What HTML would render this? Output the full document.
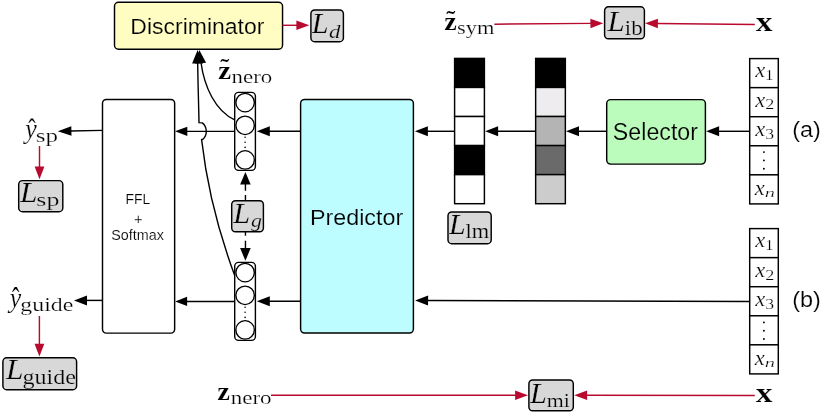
<!DOCTYPE html>
<html><head><meta charset="utf-8"><title>Model diagram</title>
<style>
html,body{margin:0;padding:0;background:#fff;}
svg{display:block;will-change:transform;}
text{fill:#000;}
.sans{font-family:"Liberation Sans",sans-serif;}
.rm{font-family:"Liberation Serif",serif;}
.it{font-family:"Liberation Serif",serif;font-style:italic;}
.bf{font-family:"Liberation Serif",serif;font-weight:bold;}
</style></head>
<body>
<svg width="820" height="415" viewBox="0 0 820 415">
<rect x="0" y="0" width="820" height="415" fill="#fff"/>
<rect x="114.5" y="2.3" width="168.05" height="46.90" rx="4" ry="4" fill="#fffdc2" stroke="#000" stroke-width="1.45"/>
<rect x="102.5" y="99.4" width="72.15" height="233.70" rx="3.8" ry="3.8" fill="none" stroke="#000" stroke-width="1.45"/>
<rect x="300.6" y="99.45" width="112.80" height="233.65" rx="4" ry="4" fill="#bdfcff" stroke="#000" stroke-width="1.45"/>
<rect x="606.7" y="99.6" width="98.70" height="64.50" rx="4" ry="4" fill="#bbfbbb" stroke="#000" stroke-width="1.45"/>
<rect x="310.90000000000003" y="9.9" width="32.50" height="31.80" rx="3.8" ry="3.8" fill="#d8d8d8" stroke="#000" stroke-width="1.45"/>
<rect x="604.6" y="6.8" width="39.80" height="32.00" rx="3.8" ry="3.8" fill="#d8d8d8" stroke="#000" stroke-width="1.45"/>
<rect x="18.700000000000003" y="180.6" width="44.10" height="31.10" rx="3.8" ry="3.8" fill="#d8d8d8" stroke="#000" stroke-width="1.45"/>
<rect x="2.9" y="357.8" width="73.70" height="31.90" rx="3.8" ry="3.8" fill="#d8d8d8" stroke="#000" stroke-width="1.45"/>
<rect x="231.7" y="200.7" width="31.70" height="31.10" rx="3.8" ry="3.8" fill="#d8d8d8" stroke="#000" stroke-width="1.45"/>
<rect x="448.0" y="211.9" width="43.20" height="31.80" rx="3.8" ry="3.8" fill="#d8d8d8" stroke="#000" stroke-width="1.45"/>
<rect x="528.9" y="379.90000000000003" width="44.40" height="30.90" rx="3.8" ry="3.8" fill="#d8d8d8" stroke="#000" stroke-width="1.45"/>
<rect x="454.6" y="58.40" width="29.80" height="29.06" fill="#000" stroke="#000" stroke-width="1.45"/><rect x="454.6" y="87.46" width="29.80" height="29.06" fill="#fff" stroke="#000" stroke-width="1.45"/><rect x="454.6" y="116.52" width="29.80" height="29.06" fill="#fff" stroke="#000" stroke-width="1.45"/><rect x="454.6" y="145.58" width="29.80" height="29.06" fill="#000" stroke="#000" stroke-width="1.45"/><rect x="454.6" y="174.64" width="29.80" height="29.06" fill="#fff" stroke="#000" stroke-width="1.45"/>
<rect x="535.65" y="58.40" width="29.70" height="29.06" fill="#000" stroke="#000" stroke-width="1.45"/><rect x="535.65" y="87.46" width="29.70" height="29.06" fill="#eeecef" stroke="#000" stroke-width="1.45"/><rect x="535.65" y="116.52" width="29.70" height="29.06" fill="#b4b4b4" stroke="#000" stroke-width="1.45"/><rect x="535.65" y="145.58" width="29.70" height="29.06" fill="#6a6a6a" stroke="#000" stroke-width="1.45"/><rect x="535.65" y="174.64" width="29.70" height="29.06" fill="#cccccc" stroke="#000" stroke-width="1.45"/>
<rect x="749.7" y="58.60" width="28.60" height="29.06" fill="#fff" stroke="#000" stroke-width="1.45"/><rect x="749.7" y="87.66" width="28.60" height="29.06" fill="#fff" stroke="#000" stroke-width="1.45"/><rect x="749.7" y="116.72" width="28.60" height="29.06" fill="#fff" stroke="#000" stroke-width="1.45"/><rect x="749.7" y="145.78" width="28.60" height="29.06" fill="#fff" stroke="#000" stroke-width="1.45"/><rect x="749.7" y="174.84" width="28.60" height="29.06" fill="#fff" stroke="#000" stroke-width="1.45"/>
<rect x="749.7" y="228.60" width="28.60" height="29.06" fill="#fff" stroke="#000" stroke-width="1.45"/><rect x="749.7" y="257.66" width="28.60" height="29.06" fill="#fff" stroke="#000" stroke-width="1.45"/><rect x="749.7" y="286.72" width="28.60" height="29.06" fill="#fff" stroke="#000" stroke-width="1.45"/><rect x="749.7" y="315.78" width="28.60" height="29.06" fill="#fff" stroke="#000" stroke-width="1.45"/><rect x="749.7" y="344.84" width="28.60" height="29.06" fill="#fff" stroke="#000" stroke-width="1.45"/>
<rect x="234.7" y="92.35" width="20.70" height="78.05" rx="3.9" ry="3.9" fill="none" stroke="#000" stroke-width="1.4"/>
<circle cx="245.1" cy="102.6" r="9.25" fill="#fff" stroke="#000" stroke-width="1.35"/>
<circle cx="245.1" cy="125.3" r="9.25" fill="#fff" stroke="#000" stroke-width="1.35"/>
<circle cx="245.1" cy="159.9" r="9.25" fill="#fff" stroke="#000" stroke-width="1.35"/>
<circle cx="245.1" cy="137.2" r="0.8" fill="#000"/>
<circle cx="245.1" cy="142.2" r="0.8" fill="#000"/>
<circle cx="245.1" cy="147.4" r="0.8" fill="#000"/>
<rect x="234.7" y="262.35" width="20.70" height="78.05" rx="3.9" ry="3.9" fill="none" stroke="#000" stroke-width="1.4"/>
<circle cx="245.1" cy="272.6" r="9.25" fill="#fff" stroke="#000" stroke-width="1.35"/>
<circle cx="245.1" cy="295.3" r="9.25" fill="#fff" stroke="#000" stroke-width="1.35"/>
<circle cx="245.1" cy="329.9" r="9.25" fill="#fff" stroke="#000" stroke-width="1.35"/>
<circle cx="245.1" cy="307.2" r="0.8" fill="#000"/>
<circle cx="245.1" cy="312.2" r="0.8" fill="#000"/>
<circle cx="245.1" cy="317.4" r="0.8" fill="#000"/>
<path d="M234.7,119.9 C215.1,110.7 204.2,86.6 200.9,62" fill="none" stroke="#000" stroke-width="1.4"/>
<polygon points="199.30,49.90 206.07,62.81 195.12,63.87" fill="#000"/>
<path d="M234.7,275.5 Q209.3,207 201.6,139.6 L202.9,139.3 A11,11 0 0 0 202.3,122.9 L199,122.6 C198.6,100 197.8,80 197.7,62" fill="none" stroke="#000" stroke-width="1.4"/>
<polygon points="197.60,49.90 203.10,63.40 192.10,63.40" fill="#000"/>
<line x1="749.70" y1="131.30" x2="718.10" y2="131.30" stroke="#000" stroke-width="1.45"/><polygon points="706.10,131.30 719.10,126.30 719.10,136.30" fill="#000"/>
<line x1="606.70" y1="131.30" x2="578.00" y2="131.30" stroke="#000" stroke-width="1.45"/><polygon points="566.00,131.30 579.00,126.30 579.00,136.30" fill="#000"/>
<line x1="535.65" y1="131.30" x2="497.10" y2="131.30" stroke="#000" stroke-width="1.45"/><polygon points="485.10,131.30 498.10,126.30 498.10,136.30" fill="#000"/>
<line x1="454.60" y1="131.30" x2="426.90" y2="131.30" stroke="#000" stroke-width="1.45"/><polygon points="414.90,131.30 427.90,126.30 427.90,136.30" fill="#000"/>
<line x1="300.60" y1="131.30" x2="268.80" y2="131.30" stroke="#000" stroke-width="1.45"/><polygon points="256.80,131.30 269.80,126.30 269.80,136.30" fill="#000"/>
<line x1="234.70" y1="131.35" x2="186.30" y2="131.35" stroke="#000" stroke-width="1.45"/><polygon points="175.00,131.35 187.30,126.70 187.30,136.00" fill="#000"/>
<line x1="102.50" y1="130.40" x2="70.40" y2="131.05" stroke="#000" stroke-width="1.45"/><polygon points="57.80,131.30 71.30,126.33 71.49,135.73" fill="#000"/>
<line x1="749.70" y1="301.50" x2="427.10" y2="300.54" stroke="#000" stroke-width="1.45"/><polygon points="415.10,300.50 428.11,295.54 428.08,305.54" fill="#000"/>
<line x1="300.60" y1="301.30" x2="268.80" y2="301.30" stroke="#000" stroke-width="1.45"/><polygon points="256.80,301.30 269.80,296.30 269.80,306.30" fill="#000"/>
<line x1="234.70" y1="301.40" x2="186.10" y2="301.40" stroke="#000" stroke-width="1.45"/><polygon points="175.10,301.40 187.10,296.80 187.10,306.00" fill="#000"/>
<line x1="102.50" y1="300.40" x2="86.00" y2="300.40" stroke="#000" stroke-width="1.45"/><polygon points="74.00,300.40 87.00,295.40 87.00,305.40" fill="#000"/>
<path d="M245.45,200.4 V195.1 M245.45,190.7 V184 M245.45,232 V235.8 M245.45,240.8 V248.5" stroke="#000" stroke-width="1.4" fill="none"/>
<polygon points="245.40,171.90 250.65,184.50 240.15,184.50" fill="#000"/>
<polygon points="245.40,260.80 240.10,248.10 250.70,248.10" fill="#000"/>
<line x1="282.50" y1="25.30" x2="297.40" y2="25.30" stroke="#b80a2e" stroke-width="1.45"/><polygon points="309.30,25.30 296.40,30.05 296.40,20.55" fill="#b80a2e"/>
<line x1="494.40" y1="24.20" x2="591.40" y2="23.40" stroke="#b80a2e" stroke-width="1.45"/><polygon points="603.30,23.30 590.44,28.16 590.36,18.66" fill="#b80a2e"/>
<line x1="754.80" y1="24.50" x2="656.90" y2="23.43" stroke="#b80a2e" stroke-width="1.45"/><polygon points="645.00,23.30 657.95,18.69 657.85,28.19" fill="#b80a2e"/>
<line x1="39.50" y1="146.00" x2="39.50" y2="167.40" stroke="#b80a2e" stroke-width="1.45"/><polygon points="39.50,179.20 34.60,166.40 44.40,166.40" fill="#b80a2e"/>
<line x1="39.40" y1="316.00" x2="39.40" y2="344.80" stroke="#b80a2e" stroke-width="1.45"/><polygon points="39.40,356.60 34.50,343.80 44.30,343.80" fill="#b80a2e"/>
<line x1="271.00" y1="395.20" x2="516.10" y2="395.30" stroke="#b80a2e" stroke-width="1.45"/><polygon points="528.00,395.30 515.10,400.04 515.10,390.54" fill="#b80a2e"/>
<line x1="754.80" y1="395.40" x2="586.10" y2="395.31" stroke="#b80a2e" stroke-width="1.45"/><polygon points="574.20,395.30 587.10,390.56 587.10,400.06" fill="#b80a2e"/>
<text transform="translate(130.33,33.86) scale(1.0134,1)" font-size="22.69" class="sans" stroke="#fffdc2" stroke-width="0.16">Discriminator</text>
<text transform="translate(309.91,224.66) scale(1.0398,1)" font-size="22.41" class="sans" stroke="#bdfcff" stroke-width="0.16">Predictor</text>
<text transform="translate(612.87,140.05) scale(0.9757,1)" font-size="23.78" class="sans" stroke="#bbfbbb" stroke-width="0.16">Selector</text>
<text transform="translate(125.38,204.18) scale(0.9819,1)" font-size="14.19" class="sans" stroke="#fff" stroke-width="0.16">FFL</text>
<text transform="translate(134.00,223.63) scale(1.0360,1)" font-size="14.23" class="sans" stroke="#fff" stroke-width="0.16">+</text>
<text transform="translate(111.27,239.74) scale(1.0165,1)" font-size="14.13" class="sans" stroke="#fff" stroke-width="0.16">Softmax</text>
<text transform="translate(792.17,137.18) scale(1.0328,1)" font-size="22.71" class="sans" stroke="#fff" stroke-width="0.16">(a)</text>
<text transform="translate(792.17,307.48) scale(1.0328,1)" font-size="22.71" class="sans" stroke="#fff" stroke-width="0.16">(b)</text>
<text transform="translate(311.84,33.41) scale(1.0183,1)" font-size="29.66" class="it" stroke="#d8d8d8" stroke-width="0.22">L</text>
<text transform="translate(329.00,37.81) scale(1.1591,1)" font-size="19.77" class="it" stroke="#d8d8d8" stroke-width="0.22">d</text>
<text transform="translate(607.55,30.61) scale(1.0336,1)" font-size="29.96" class="it" stroke="#d8d8d8" stroke-width="0.22">L</text>
<text transform="translate(624.81,34.81) scale(1.1215,1)" font-size="20.49" class="rm" stroke="#d8d8d8" stroke-width="0.22">ib</text>
<text transform="translate(20.06,201.51) scale(1.0464,1)" font-size="29.96" class="it" stroke="#d8d8d8" stroke-width="0.22">L</text>
<text transform="translate(36.33,205.79) scale(1.3690,1)" font-size="18.89" class="rm" stroke="#d8d8d8" stroke-width="0.22">sp</text>
<text transform="translate(5.96,378.81) scale(1.0738,1)" font-size="29.20" class="it" stroke="#d8d8d8" stroke-width="0.22">L</text>
<text transform="translate(22.45,383.59) scale(1.2044,1)" font-size="20.03" class="rm" stroke="#d8d8d8" stroke-width="0.22">guide</text>
<text transform="translate(233.15,222.61) scale(1.0248,1)" font-size="29.66" class="it" stroke="#d8d8d8" stroke-width="0.22">L</text>
<text transform="translate(250.98,226.75) scale(1.1795,1)" font-size="18.61" class="it" stroke="#d8d8d8" stroke-width="0.22">g</text>
<text transform="translate(448.94,234.41) scale(1.0066,1)" font-size="29.81" class="it" stroke="#d8d8d8" stroke-width="0.22">L</text>
<text transform="translate(465.44,237.91) scale(1.1072,1)" font-size="20.21" class="rm" stroke="#d8d8d8" stroke-width="0.22">lm</text>
<text transform="translate(530.05,402.91) scale(1.0143,1)" font-size="29.96" class="it" stroke="#d8d8d8" stroke-width="0.22">L</text>
<text transform="translate(546.63,406.51) scale(1.1758,1)" font-size="18.61" class="rm" stroke="#d8d8d8" stroke-width="0.22">mi</text>
<text transform="translate(218.02,78.50) scale(1.1504,1)" font-size="25.71" class="bf" stroke="#fff" stroke-width="0.2">z</text>
<text transform="translate(220.15,75.45) scale(1.1473,1)" font-size="23.50" class="bf" stroke="#fff" stroke-width="0.2">˜</text>
<text transform="translate(231.57,82.62) scale(1.1796,1)" font-size="19.38" class="rm" stroke="#fff" stroke-width="0.22">nero</text>
<text transform="translate(444.25,30.10) scale(1.1115,1)" font-size="25.49" class="bf" stroke="#fff" stroke-width="0.2">z</text>
<text transform="translate(446.35,26.99) scale(1.1943,1)" font-size="22.83" class="bf" stroke="#fff" stroke-width="0.2">˜</text>
<text transform="translate(456.97,34.43) scale(1.1569,1)" font-size="19.39" class="rm" stroke="#fff" stroke-width="0.22">sym</text>
<text transform="translate(217.34,399.70) scale(1.1610,1)" font-size="24.62" class="bf" stroke="#fff" stroke-width="0.2">z</text>
<text transform="translate(230.66,404.22) scale(1.1886,1)" font-size="19.38" class="rm" stroke="#fff" stroke-width="0.22">nero</text>
<text transform="translate(755.67,30.90) scale(1.1963,1)" font-size="28.11" class="bf" stroke="#fff" stroke-width="0.2">x</text>
<text transform="translate(755.67,401.80) scale(1.2057,1)" font-size="27.89" class="bf" stroke="#fff" stroke-width="0.2">x</text>
<text transform="translate(25.26,137.61) scale(0.9680,1)" font-size="26.85" class="it" stroke="#fff" stroke-width="0.22">y</text>
<text transform="translate(28.20,138.91) scale(0.7674,1)" font-size="28.91" class="rm" stroke="#fff" stroke-width="0.22">ˆ</text>
<text transform="translate(35.86,141.56) scale(1.3131,1)" font-size="19.03" class="rm" stroke="#fff" stroke-width="0.22">sp</text>
<text transform="translate(9.64,306.61) scale(0.9771,1)" font-size="26.41" class="it" stroke="#fff" stroke-width="0.22">y</text>
<text transform="translate(11.89,308.70) scale(0.7175,1)" font-size="30.92" class="rm" stroke="#fff" stroke-width="0.22">ˆ</text>
<text transform="translate(20.37,310.58) scale(1.2451,1)" font-size="19.15" class="rm" stroke="#fff" stroke-width="0.22">guide</text>
<text transform="translate(755.26,77.11) scale(1.0819,1)" font-size="20.74" class="it" stroke="#fff" stroke-width="0.22">x</text>
<text transform="translate(765.36,79.81) scale(1.1150,1)" font-size="14.57" class="rm" stroke="#fff" stroke-width="0.22">1</text>
<text transform="translate(755.26,106.53) scale(1.0819,1)" font-size="20.74" class="it" stroke="#fff" stroke-width="0.22">x</text>
<text transform="translate(765.19,109.33) scale(1.2188,1)" font-size="14.98" class="rm" stroke="#fff" stroke-width="0.22">2</text>
<text transform="translate(755.26,135.95) scale(1.0819,1)" font-size="20.74" class="it" stroke="#fff" stroke-width="0.22">x</text>
<text transform="translate(765.14,138.61) scale(1.2002,1)" font-size="14.76" class="rm" stroke="#fff" stroke-width="0.22">3</text>
<text transform="translate(754.66,194.79) scale(1.0819,1)" font-size="20.74" class="it" stroke="#fff" stroke-width="0.22">x</text>
<text transform="translate(764.66,196.89) scale(1.5443,1)" font-size="13.20" class="it" stroke="#fff" stroke-width="0.22">n</text>
<circle cx="763.9" cy="152.10" r="0.95" fill="#000"/>
<circle cx="763.9" cy="160.40" r="0.95" fill="#000"/>
<circle cx="763.9" cy="168.70" r="0.95" fill="#000"/>
<text transform="translate(755.26,247.41) scale(1.0819,1)" font-size="20.74" class="it" stroke="#fff" stroke-width="0.22">x</text>
<text transform="translate(765.36,250.11) scale(1.1150,1)" font-size="14.57" class="rm" stroke="#fff" stroke-width="0.22">1</text>
<text transform="translate(755.26,276.83) scale(1.0819,1)" font-size="20.74" class="it" stroke="#fff" stroke-width="0.22">x</text>
<text transform="translate(765.19,279.63) scale(1.2188,1)" font-size="14.98" class="rm" stroke="#fff" stroke-width="0.22">2</text>
<text transform="translate(755.26,306.25) scale(1.0819,1)" font-size="20.74" class="it" stroke="#fff" stroke-width="0.22">x</text>
<text transform="translate(765.14,308.91) scale(1.2002,1)" font-size="14.76" class="rm" stroke="#fff" stroke-width="0.22">3</text>
<text transform="translate(754.66,365.09) scale(1.0819,1)" font-size="20.74" class="it" stroke="#fff" stroke-width="0.22">x</text>
<text transform="translate(764.66,367.19) scale(1.5443,1)" font-size="13.20" class="it" stroke="#fff" stroke-width="0.22">n</text>
<circle cx="763.9" cy="322.40" r="0.95" fill="#000"/>
<circle cx="763.9" cy="330.70" r="0.95" fill="#000"/>
<circle cx="763.9" cy="339.00" r="0.95" fill="#000"/>
</svg>
</body></html>
